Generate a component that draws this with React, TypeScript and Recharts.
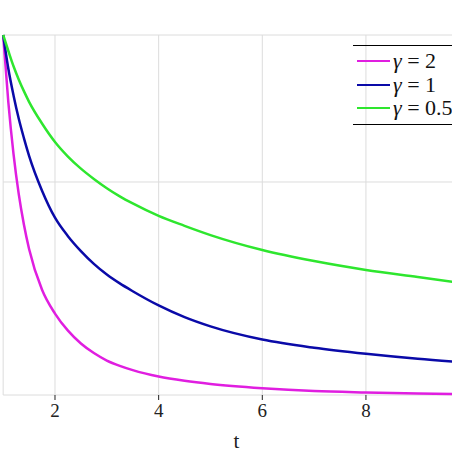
import React from 'react';
import { LineChart, Line, XAxis, YAxis, CartesianGrid } from 'recharts';

const tValues = [1, 1.1, 1.2, 1.3, 1.4, 1.5, 1.75, 2, 2.25, 2.5, 2.75, 3, 3.25, 3.5, 4, 4.5, 5, 6, 7, 8, 9, 10];
const gamma2 = [1, 0.81, 0.665, 0.553, 0.467, 0.398, 0.283, 0.216, 0.168, 0.132, 0.105, 0.084, 0.069, 0.057, 0.039, 0.027, 0.018, 0.006, -0.002, -0.006, -0.009, -0.011];
const gamma1 = [1, 0.905, 0.83, 0.765, 0.71, 0.66, 0.562, 0.486, 0.434, 0.392, 0.356, 0.326, 0.301, 0.279, 0.239, 0.206, 0.18, 0.143, 0.12, 0.103, 0.089, 0.078];
const gamma05 = [1, 0.955, 0.912, 0.875, 0.842, 0.812, 0.751, 0.699, 0.658, 0.624, 0.595, 0.569, 0.546, 0.526, 0.491, 0.463, 0.437, 0.395, 0.364, 0.339, 0.319, 0.299];
const xTicks = [2, 4, 6, 8];
const yTicks = [0.5864, 1];
const seriesKeys = ['g2', 'g1', 'g05'];
const seriesGammas = ['2', '1', '0.5'];
const seriesColors = ['#e01ee0', '#0a0aa8', '#2ee62e'];

const data = tValues.map((t, i) => ({ t, g2: gamma2[i], g1: gamma1[i], g05: gamma05[i] }));

const serif = '"Liberation Serif", "Times New Roman", Tinos, "DejaVu Serif", "Noto Serif", Times, serif';

function LegendBox() {
  return (
    <div style={{ position: 'absolute', left: 353, top: 45, width: 130, height: 78, borderTop: '1px solid #000', borderBottom: '1px solid #000', fontFamily: serif, fontSize: 22, color: '#111' }}>
      {seriesGammas.map((g, i) => (
        <div key={i} style={{ position: 'absolute', left: 4, top: 3 + i * 23.5, height: 24, display: 'flex', alignItems: 'center', whiteSpace: 'nowrap' }}>
          <div style={{ width: 33, height: 2, background: seriesColors[i], marginRight: 3 }} />
          <span>
            <span style={{ fontStyle: 'italic' }}>γ</span>
            {' = ' + g}
          </span>
        </div>
      ))}
    </div>
  );
}

export default function App() {
  return (
    <div style={{ position: 'absolute', left: 0, top: 0, width: 452, height: 452, overflow: 'hidden', background: '#fff', fontFamily: serif }}>
      <LineChart width={480} height={452} data={data} margin={{ top: 35, right: 10.4, left: 3.17, bottom: 0 }} style={{ fontFamily: serif }}>
        <CartesianGrid stroke="#dcdcdc" strokeWidth={1} vertical horizontal />
        <XAxis
          dataKey="t"
          type="number"
          domain={[1, 10]}
          ticks={xTicks}
          height={57}
          tickSize={5}
          tickMargin={4}
          axisLine={false}
          tickLine={{ stroke: '#222' }}
          tick={{ fontFamily: serif, fontSize: 19, fill: '#222' }}
          label={{ value: 't', position: 'insideBottom', offset: 4, style: { fontFamily: serif, fontSize: 21, fill: '#222' } }}
        />
        <YAxis
          type="number"
          domain={[-0.013, 1]}
          ticks={yTicks}
          width={0}
          mirror
          tickSize={6}
          axisLine={false}
          tickLine={{ stroke: '#222' }}
          tickFormatter={() => ''}
        />
        {seriesKeys.map((k, i) => (
          <Line key={k} type="monotone" dataKey={k} stroke={seriesColors[i]} strokeWidth={2.5} dot={false} isAnimationActive={false} />
        ))}
      </LineChart>
      <LegendBox />
    </div>
  );
}
